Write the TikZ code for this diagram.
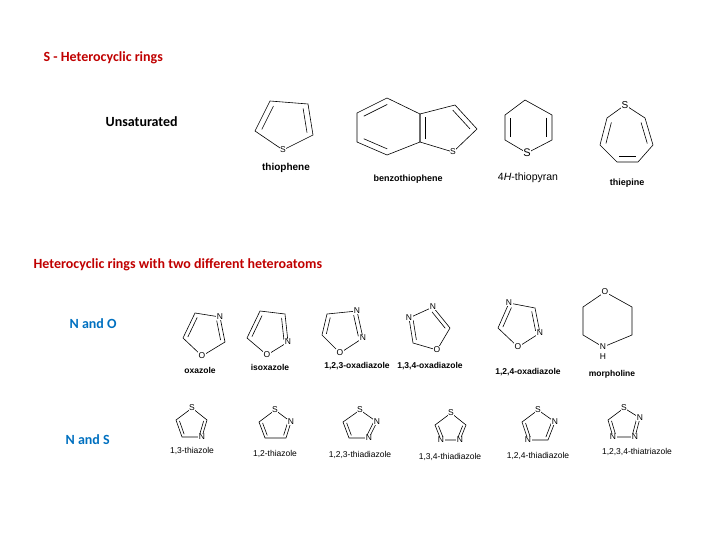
\documentclass[tikz,border=0pt]{standalone}
\usepackage{fontspec}
\setmainfont{Liberation Sans}
\newfontfamily\calibrifont{Carlito}
\usetikzlibrary{calc}
\newcommand\pent[6]{\coordinate (#11) at #2; \coordinate (#12) at #3; \coordinate (#13) at #4; \coordinate (#14) at #5; \coordinate (#15) at #6;
 \coordinate (#1o) at ($0.2*(#11)+0.2*(#12)+0.2*(#13)+0.2*(#14)+0.2*(#15)$);
 \draw (#11)--(#12)--(#13)--(#14)--(#15)--cycle;}
\newcommand\hexa[7]{\coordinate (#11) at #2; \coordinate (#12) at #3; \coordinate (#13) at #4; \coordinate (#14) at #5; \coordinate (#15) at #6; \coordinate (#16) at #7;
 \coordinate (#1o) at ($1/6*(#11)+1/6*(#12)+1/6*(#13)+1/6*(#14)+1/6*(#15)+1/6*(#16)$);
 \draw (#11)--(#12)--(#13)--(#14)--(#15)--(#16)--cycle;}
\newcommand\db[3]{\draw ($(#1#2)!0.22!(#1o)$)--($(#1#3)!0.22!(#1o)$);}
\newcommand\at[3]{\node[atom] at (#1#2) {#3};}
\begin{document}
\begin{tikzpicture}[x=1pt,y=-1pt,line width=0.6pt,
  atom/.style={fill=white,inner sep=0.5pt,font=\fontsize{8.5}{9}\selectfont},
  bname/.style={font=\fontsize{8.5}{10}\selectfont\bfseries},
  rname/.style={font=\fontsize{8.5}{10}\selectfont},
  head/.style={font=\calibrifont\fontsize{14}{16}\selectfont\bfseries,anchor=west}]
\useasboundingbox (0,0) rectangle (720,540);
\node[head,text={rgb,255:red,192;green,0;blue,0}] (h1) at (40,58) {S - Heterocyclic rings};
\node[head] (h2) at (102,122) {Unsaturated};
\node[head,text={rgb,255:red,192;green,0;blue,0}] (h3) at (30,265) {Heterocyclic rings with two different heteroatoms};
\node[head,text={rgb,255:red,0;green,112;blue,192}] (h4) at (66,324) {N and O};
\node[head,text={rgb,255:red,0;green,112;blue,192}] (h5) at (62,440) {N and S};
% thiophene
\pent{a}{(283,150)}{(313,135)}{(308,104)}{(270,101)}{(255,131)}
\db{a}{2}{3}\db{a}{4}{5}\at{a}{1}{S}
\node[font=\fontsize{10}{11}\selectfont\bfseries] (n1) at (286,168) {thiophene};
% benzothiophene
\hexa{b}{(387,98)}{(420,114)}{(420,142)}{(387,155)}{(357,142)}{(357,113)}
\db{b}{1}{6}\db{b}{4}{5}
\pent{t}{(420,114)}{(455,105)}{(477,129)}{(453,152)}{(420,142)}
\db{t}{5}{1}\db{t}{2}{3}\at{t}{4}{S}
\node[font=\fontsize{9}{10}\selectfont\bfseries] (n2) at (408,179) {benzothiophene};
% thiopyran
\hexa{p}{(525,100)}{(552,115)}{(552,140)}{(527,153)}{(505,140)}{(505,115)}
\db{p}{2}{3}\db{p}{5}{6}\node[atom,font=\fontsize{11}{12}\selectfont] at (p4) {S};
\node[font=\fontsize{10.5}{12}\selectfont] (n3) at (528,178) {4\textit{H}-thiopyran};
% thiepine
\coordinate (e1) at (625,105);\coordinate (e2) at (645,118);\coordinate (e3) at (653,145);
\coordinate (e4) at (638,162);\coordinate (e5) at (617,162);\coordinate (e6) at (600,145);\coordinate (e7) at (607,118);
\coordinate (eo) at (627,138);
\draw (e1)--(e2)--(e3)--(e4)--(e5)--(e6)--(e7)--cycle;
\db{e}{2}{3}\db{e}{4}{5}\db{e}{6}{7}\node[atom,font=\fontsize{10}{11}\selectfont] at (e1) {S};
\node[font=\fontsize{9}{10}\selectfont\bfseries] (n4) at (627,183) {thiepine};
% N and O
\pent{c}{(220,317)}{(195,313)}{(183,338)}{(202,356)}{(225,342)}
\db{c}{2}{3}\db{c}{1}{5}\at{c}{1}{N}\at{c}{4}{O}
\node[bname] (n5) at (200,370) {oxazole};
\pent{d}{(260,311)}{(285,314)}{(288,342)}{(267,355)}{(247,338)}
\db{d}{1}{5}\db{d}{2}{3}\at{d}{3}{N}\at{d}{4}{O}
\node[bname] (n6) at (270,367) {isoxazole};
\pent{f}{(327,314)}{(357,311)}{(363,338)}{(340,353)}{(322,335)}
\db{f}{1}{5}\db{f}{2}{3}\at{f}{2}{N}\at{f}{3}{N}\at{f}{4}{O}
\node[bname] (n7) at (357,366) {1,2,3-oxadiazole};
\pent{g}{(409,318)}{(433,307)}{(450,328)}{(437,350)}{(413,343)}
\db{g}{2}{3}\db{g}{1}{5}\at{g}{1}{N}\at{g}{2}{N}\at{g}{4}{O}
\node[bname] (n8) at (430,366) {1,3,4-oxadiazole};
\pent{k}{(509,303)}{(535,308)}{(540,333)}{(518,347)}{(498,328)}
\db{k}{1}{5}\db{k}{2}{3}\at{k}{1}{N}\at{k}{3}{N}\at{k}{4}{O}
\node[bname] (n9) at (528,372) {1,2,4-oxadiazole};
\hexa{m}{(605,292)}{(632,307)}{(632,335)}{(603,347)}{(583,335)}{(583,307)}
\at{m}{1}{O}\at{m}{4}{N}
\node[atom] (mh) at (603,357) {H};
\node[bname] (n10) at (612,374) {morpholine};
% N and S
\pent{q}{(192,408)}{(207,420)}{(202,437)}{(182,437)}{(176,420)}
\db{q}{5}{4}\db{q}{2}{3}\at{q}{1}{S}\at{q}{3}{N}
\node[rname] (n11) at (192,451) {1,3-thiazole};
\pent{r}{(275,410)}{(291,422)}{(286,438)}{(265,438)}{(259,422)}
\db{r}{5}{4}\db{r}{2}{3}\at{r}{1}{S}\at{r}{2}{N}
\node[rname] (n12) at (275,454) {1,2-thiazole};
\pent{s}{(360,410)}{(377,422)}{(369,438)}{(349,438)}{(343,422)}
\db{s}{5}{4}\db{s}{2}{3}\at{s}{1}{S}\at{s}{2}{N}\at{s}{3}{N}
\node[rname] (n13) at (360,455) {1,2,3-thiadiazole};
\pent{u}{(451,413)}{(466,425)}{(460,440)}{(441,440)}{(435,425)}
\db{u}{5}{4}\db{u}{2}{3}\at{u}{1}{S}\at{u}{3}{N}\at{u}{4}{N}
\node[rname] (n14) at (450,457) {1,3,4-thiadiazole};
\pent{v}{(538,410)}{(555,422)}{(548,440)}{(528,440)}{(522,422)}
\db{v}{5}{4}\db{v}{2}{3}\at{v}{1}{S}\at{v}{2}{N}\at{v}{4}{N}
\node[rname] (n15) at (538,456) {1,2,4-thiadiazole};
\pent{w}{(624,408)}{(640,418)}{(635,437)}{(613,437)}{(608,420)}
\db{w}{5}{4}\db{w}{2}{3}\at{w}{1}{S}\at{w}{2}{N}\at{w}{3}{N}\at{w}{4}{N}
\node[rname] (n16) at (637,452) {1,2,3,4-thiatriazole};
\end{tikzpicture}
\end{document}
